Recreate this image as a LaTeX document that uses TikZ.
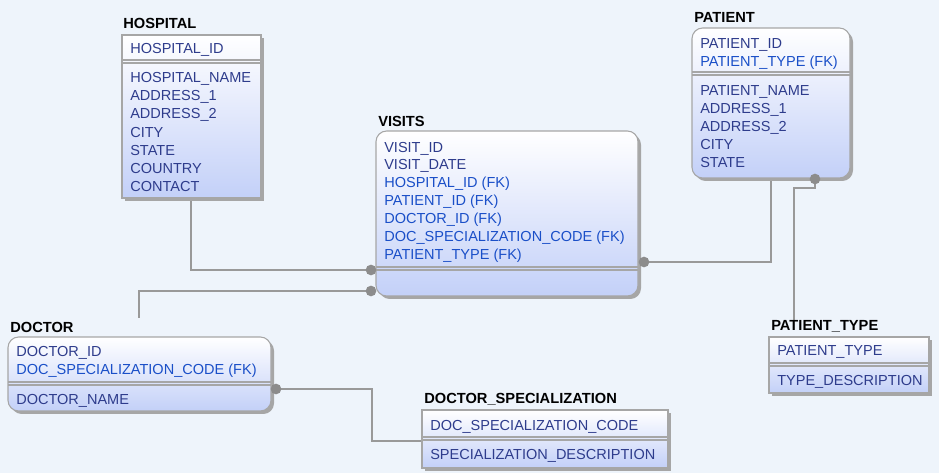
\documentclass[tikz,border=0pt]{standalone}
\usepackage{fontspec}
\setmainfont{Liberation Sans}
\begin{document}
\begin{tikzpicture}[x=0.75pt,y=-0.75pt,
  shadowbox/.style={fill=black!35},
  tabbox/.style={draw=black!35,line width=0.8pt,top color=white,bottom color=tabc},
  sep/.style={draw=black!35,line width=0.8pt},
  conn/.style={draw=black!40,line width=1pt},
  dotc/.style={circle,fill=black!45,inner sep=0pt,minimum size=8pt},
  ttl/.style={anchor=west,inner sep=0pt,font=\fontsize{11pt}{12pt}\selectfont},
  fld/.style={anchor=west,inner sep=0pt,text=fldc,font=\fontsize{10.9pt}{12pt}\selectfont},
  fk/.style={fld,text=fkc}]
\definecolor{bgc}{HTML}{EEF4FB}
\definecolor{tabc}{HTML}{C3D0F8}
\definecolor{fldc}{HTML}{2E3C8C}
\definecolor{fkc}{HTML}{1A4FC8}
\fill[bgc] (0,0) rectangle (939,473);
\useasboundingbox (0,0) rectangle (939,473);
% connectors
\coordinate (h1) at (191,198); \coordinate (h2) at (191,270); \coordinate (v1) at (371,270);
\coordinate (d1) at (139,318); \coordinate (d2) at (139,291); \coordinate (v2) at (371,291);
\coordinate (v3) at (644,262); \coordinate (p1) at (771,262); \coordinate (p2) at (771,178);
\coordinate (t1) at (794,320); \coordinate (t2) at (794,188); \coordinate (t3) at (815,188); \coordinate (p3) at (815,179);
\coordinate (d3) at (276,389); \coordinate (s1) at (372,389); \coordinate (s2) at (372,441); \coordinate (s3) at (422,441);
\draw[conn] (h1)--(h2)--(v1);
\draw[conn] (d1)--(d2)--(v2);
\draw[conn] (v3)--(p1)--(p2);
\draw[conn] (t1)--(t2)--(t3)--(p3);
\draw[conn] (d3)--(s1)--(s2)--(s3);
% HOSPITAL
\fill[shadowbox] (125,38) rectangle (264,201);
\path[tabbox] (122,35) rectangle (261,198);
\draw[sep] (122,60) -- (261,60); \draw[sep] (122,63) -- (261,63);
\node[ttl] (hT) at (123,23) {\textbf{HOSPITAL}};
\node[fld] (h_a) at (130,50) {HOSPITAL\_ID};
\node[fld] (h_b) at (130,79) {HOSPITAL\_NAME};
\node[fld] (h_c) at (130,97) {ADDRESS\_1};
\node[fld] (h_d) at (130,115) {ADDRESS\_2};
\node[fld] (h_e) at (130,133) {CITY};
\node[fld] (h_f) at (130,151) {STATE};
\node[fld] (h_g) at (130,169) {COUNTRY};
\node[fld] (h_h) at (130,187) {CONTACT};
% PATIENT
\fill[shadowbox,rounded corners=8pt] (695,31) rectangle (853,181);
\path[tabbox,rounded corners=8pt] (692,28) rectangle (850,178);
\draw[sep] (692,72) -- (850,72); \draw[sep] (692,75) -- (850,75);
\node[ttl] (pT) at (694,17) {\textbf{PATIENT}};
\node[fld] (p_a) at (700,45) {PATIENT\_ID};
\node[fk] (p_b) at (700,63) {PATIENT\_TYPE (FK)};
\node[fld] (p_c) at (700,92) {PATIENT\_NAME};
\node[fld] (p_d) at (700,110) {ADDRESS\_1};
\node[fld] (p_e) at (700,128) {ADDRESS\_2};
\node[fld] (p_f) at (700,145) {CITY};
\node[fld] (p_g) at (700,163) {STATE};
% VISITS
\fill[shadowbox,rounded corners=8pt] (379,134) rectangle (641,299);
\path[tabbox,rounded corners=8pt] (376,131) rectangle (638,296);
\draw[sep] (376,267) -- (638,267); \draw[sep] (376,270) -- (638,270);
\node[ttl] (vT) at (378,121) {\textbf{VISITS}};
\node[fld] (v_a) at (384,149) {VISIT\_ID};
\node[fld] (v_b) at (384,166) {VISIT\_DATE};
\node[fk] (v_c) at (384,184) {HOSPITAL\_ID (FK)};
\node[fk] (v_d) at (384,202) {PATIENT\_ID (FK)};
\node[fk] (v_e) at (384,220) {DOCTOR\_ID (FK)};
\node[fk] (v_f) at (384,238) {DOC\_SPECIALIZATION\_CODE (FK)};
\node[fk] (v_g) at (384,256) {PATIENT\_TYPE (FK)};
% DOCTOR
\fill[shadowbox,rounded corners=8pt] (11,340) rectangle (274,414);
\path[tabbox,rounded corners=8pt] (8,337) rectangle (271,411);
\draw[sep] (8,382) -- (271,382); \draw[sep] (8,385) -- (271,385);
\node[ttl] (dT) at (10,327) {\textbf{DOCTOR}};
\node[fld] (d_a) at (16,353) {DOCTOR\_ID};
\node[fk] (d_b) at (16,371) {DOC\_SPECIALIZATION\_CODE (FK)};
\node[fld] (d_c) at (16,401) {DOCTOR\_NAME};
% DOCTOR_SPECIALIZATION
\fill[shadowbox] (425,413) rectangle (671,471);
\path[tabbox] (422,410) rectangle (668,468);
\draw[sep] (422,437) -- (668,437); \draw[sep] (422,440) -- (668,440);
\node[ttl] (sT) at (424,399) {\textbf{DOCTOR\_SPECIALIZATION}};
\node[fld] (s_a) at (430,427) {DOC\_SPECIALIZATION\_CODE};
\node[fld] (s_b) at (430,456) {SPECIALIZATION\_DESCRIPTION};
% PATIENT_TYPE
\fill[shadowbox] (772,340) rectangle (932,396);
\path[tabbox] (769,337) rectangle (929,393);
\draw[sep] (769,363) -- (929,363); \draw[sep] (769,366) -- (929,366);
\node[ttl] (tT) at (771,326) {\textbf{PATIENT\_TYPE}};
\node[fld] (t_a) at (777,352) {PATIENT\_TYPE};
\node[fld] (t_b) at (777,382) {TYPE\_DESCRIPTION};
% dots
\node[dotc] (dv1) at (v1) {};
\node[dotc] (dv2) at (v2) {};
\node[dotc] (dv3) at (v3) {};
\node[dotc] (dp3) at (p3) {};
\node[dotc] (dd3) at (d3) {};
\end{tikzpicture}
\end{document}
